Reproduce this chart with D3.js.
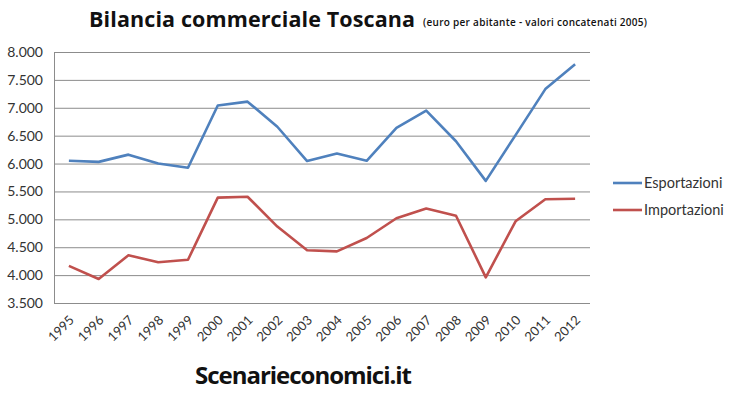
<!DOCTYPE html>
<html>
<head>
<meta charset="utf-8">
<script src="https://cdn.jsdelivr.net/npm/d3@7"></script>
<style>
  body { margin: 0; background: #fff; }
  svg text { font-family: Lato, "Open Sans", sans-serif; }
</style>
</head>
<body>
<div id="chart"></div>
<script>
// ===========Data
var years = ["1995", "1996", "1997", "1998", "1999", "2000", "2001", "2002", "2003",
             "2004", "2005", "2006", "2007", "2008", "2009", "2010", "2011", "2012"];
var esportazioni = [6050, 6030, 6160, 6000, 5925, 7040, 7110, 6660, 6045,
                    6180, 6050, 6640, 6950, 6400, 5690, 6510, 7335, 7780];
var importazioni = [4165, 3930, 4355, 4230, 4275, 5390, 5405, 4870, 4445,
                    4425, 4665, 5020, 5195, 5065, 3960, 4965, 5360, 5370];
var yTicks = [3500, 4000, 4500, 5000, 5500, 6000, 6500, 7000, 7500, 8000];
var seriesNames = ["Esportazioni", "Importazioni"];
var seriesColors = ["#4f81bd", "#c0504d"];

// ===========Set Height, Width and Margins
var svgWidth = 730;
var svgHeight = 404;
var margin = { top: 52, right: 140, bottom: 101, left: 54 };
var width = svgWidth - margin.left - margin.right;
var height = svgHeight - margin.top - margin.bottom;

var svg = d3.select("#chart").append("svg")
    .attr("width", svgWidth)
    .attr("height", svgHeight);

var chartGroup = svg.append("g")
    .attr("transform", `translate(${margin.left}, ${margin.top})`);

// ==========Scales
var xScale = d3.scaleBand()
    .domain(years)
    .range([0, width]);

var yScale = d3.scaleLinear()
    .domain([3500, 8000])
    .range([height, 0]);

var fmt = d3.formatLocale({ decimal: ",", thousands: ".", grouping: [3], currency: ["", "€"] }).format(",.0f");

// ==========Grid lines + y axis labels
var leftAxis = d3.axisLeft(yScale)
    .tickValues(yTicks)
    .tickSize(-width)
    .tickPadding(11)
    .tickFormat(fmt);

var yAxis = chartGroup.append("g").call(leftAxis);
yAxis.select(".domain").remove();
yAxis.selectAll(".tick line").attr("stroke", "#8c8c8c");
yAxis.selectAll(".tick text")
    .attr("fill", "#333")
    .style("font-size", "14px");

// vertical axis line
chartGroup.append("line")
    .attr("x1", 0.5).attr("x2", 0.5)
    .attr("y1", 0).attr("y2", height)
    .attr("stroke", "#8c8c8c");

// ==========X axis labels (rotated)
var bottomAxis = d3.axisBottom(xScale).tickSize(0).tickPadding(0);
var xAxis = chartGroup.append("g")
    .attr("transform", `translate(0, ${height})`)
    .call(bottomAxis);
xAxis.select(".domain").remove();
xAxis.selectAll(".tick text")
    .attr("fill", "#333")
    .style("font-size", "13px")
    .attr("text-anchor", "end")
    .attr("dy", "0")
    .attr("transform", "translate(6, 18) rotate(-45)");

// ==========Lines
var line = d3.line()
    .x((d, i) => xScale(years[i]) + xScale.bandwidth() / 2)
    .y(d => yScale(d));

[esportazioni, importazioni].forEach(function(series, k) {
    chartGroup.append("path")
        .datum(series)
        .attr("fill", "none")
        .attr("stroke", seriesColors[k])
        .attr("stroke-width", 2.6)
        .attr("stroke-linejoin", "round")
        .attr("d", line);
});

// ==========Legend
var legend = svg.append("g").attr("transform", "translate(613, 183)");
seriesNames.forEach(function(name, k) {
    legend.append("line")
        .attr("x1", 0).attr("x2", 29)
        .attr("y1", k * 27).attr("y2", k * 27)
        .attr("stroke", seriesColors[k])
        .attr("stroke-width", 2.6);
    legend.append("text")
        .attr("x", 31)
        .attr("y", k * 27 + 5)
        .attr("fill", "#333")
        .style("font-size", "14.5px")
        .text(name);
});

// ==========Titles
svg.append("text")
    .attr("x", 89)
    .attr("y", 27)
    .style("font-family", "'Open Sans', sans-serif")
    .style("font-size", "21.5px")
    .style("font-weight", "bold")
    .attr("fill", "#111")
    .attr("textLength", 326)
    .text("Bilancia commerciale Toscana");

svg.append("text")
    .attr("x", 423)
    .attr("y", 26)
    .style("font-family", "'Open Sans', sans-serif")
    .style("font-size", "10px")
    .style("font-weight", "600")
    .attr("fill", "#111")
    .attr("textLength", 224)
    .text("(euro per abitante - valori concatenati 2005)");

svg.append("text")
    .attr("x", 195)
    .attr("y", 384)
    .style("font-family", "'Open Sans', sans-serif")
    .style("font-size", "24px")
    .style("font-weight", "bold")
    .attr("fill", "#111")
    .attr("textLength", 217)
    .text("Scenarieconomici.it");
</script>
</body>
</html>
